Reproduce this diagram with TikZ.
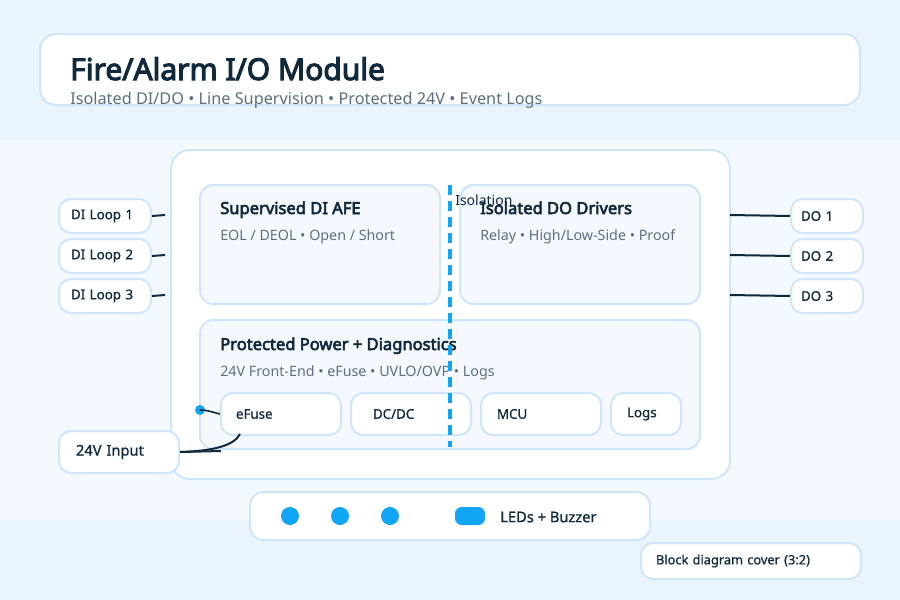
\documentclass[tikz,border=0pt]{standalone}
\usepackage{fontspec}
\setmainfont{Noto Sans}[BoldFont={Noto Sans}, BoldFeatures={FakeBold=3.5}]
\newfontfamily\midf{Noto Sans}[FakeBold=0.8]
\definecolor{bgA}{HTML}{E9F4FD}
\definecolor{bgB}{HTML}{F4F9FF}
\definecolor{edge}{HTML}{CFE6FA}
\definecolor{panel}{HTML}{F5F9FF}
\definecolor{ink}{HTML}{10293D}
\definecolor{sub}{HTML}{5E6E80}
\definecolor{accent}{HTML}{11A5F5}
\tikzset{
  box/.style={draw=edge, line width=1.5pt, rounded corners=10pt, fill=white},
  pbox/.style={draw=edge, line width=1.5pt, rounded corners=10pt, fill=panel},
  pill/.style={draw=edge, line width=1.5pt, rounded corners=9pt, fill=white, inner ysep=0pt, anchor=north west, text=ink, align=left, font=\midf\fontsize{10}{12}\selectfont},
  wire/.style={draw=ink, line width=1.5pt},
  hd/.style={anchor=base west, text=ink, font=\bfseries\fontsize{12.4}{14}\selectfont, inner sep=0pt},
  sb/.style={anchor=base west, text=sub, font=\fontsize{10.7}{12}\selectfont, inner sep=0pt},
}
\begin{document}
\begin{tikzpicture}[x=0.75pt,y=-0.75pt]
\useasboundingbox (0,0) rectangle (900,600);
% background bands
\fill[bgA] (0,0) rectangle (900,140);
\fill[bgB] (0,140) rectangle (900,520);
\fill[bgA] (0,520) rectangle (900,600);
% title
\draw[box, rounded corners=12pt] (40,34) rectangle (860,105);
\node[anchor=base west, text=ink, font=\bfseries\fontsize{22.5}{26}\selectfont, inner sep=0pt] (title) at (70,80) {Fire/Alarm I/O Module};
\node[anchor=base west, text=sub, font=\fontsize{12.2}{14}\selectfont, inner sep=0pt] (subtitle) at (70,104) {Isolated DI/DO • Line Supervision • Protected 24V • Event Logs};
% main module
\draw[box, rounded corners=14pt] (171,150) rectangle (730,479);
% DI AFE
\draw[pbox] (200,185) rectangle (440,304);
\node[hd] (diafe) at (220,214) {Supervised DI AFE};
\node[sb] (diafes) at (220,240) {EOL / DEOL • Open / Short};
% DO drivers
\draw[pbox] (460,185) rectangle (700,304);
\node[hd] (dodrv) at (480,214) {Isolated DO Drivers};
\node[sb] (dodrvs) at (480,240) {Relay • High/Low-Side • Proof};
% Power
\draw[pbox] (200,320) rectangle (700,449);
\node[hd] (pwr) at (220,350) {Protected Power + Diagnostics};
\node[sb] (pwrs) at (220,376) {24V Front-End • eFuse • UVLO/OVP • Logs};
% sub blocks
\node[pill, minimum height=31.5pt, inner xsep=11.25pt, text width=67.5pt] (efuse) at (220,392) {eFuse};
\node[pill, minimum height=31.5pt, inner xsep=16.5pt, text width=57pt] (dcdc) at (350,392) {DC/DC};
\node[pill, minimum height=31.5pt, inner xsep=12pt, text width=66pt] (mcu) at (480,392) {MCU};
\node[pill, minimum height=31.5pt, inner xsep=12pt, text width=28.5pt] (logs) at (610,392) {Logs};
% isolation
\draw[accent, line width=3pt, dash pattern=on 7.5pt off 4.5pt] (450,185) -- (450,447);
\node[anchor=base west, text=ink, font=\fontsize{10.5}{12}\selectfont, inner sep=0pt] (iso) at (455,205) {Isolation};
% DI loops
\foreach \i/\y in {1/198,2/238,3/278}{
  \node[pill, minimum height=25.5pt, inner xsep=9pt, text width=51pt] (di\i) at (58,\y) {DI Loop \i};
  \coordinate (dit\i) at (165,\y+17);
  \draw[wire] (di\i.east) -- (dit\i);
}
% DO outputs
\foreach \i/\y in {1/198,2/238,3/278}{
  \node[pill, minimum height=25.5pt, inner xsep=7.5pt, text width=39pt] (do\i) at (790,\y) {DO \i};
  \coordinate (dos\i) at (730,\y+17);
  \draw[wire] (dos\i) -- (do\i.west);
}
% 24V input
\node[pill, minimum height=31.5pt, inner xsep=12.75pt, text width=64.5pt, font=\midf\fontsize{11}{13}\selectfont] (vin) at (58,430) {24V Input};
\coordinate (vend) at (221,451);
\coordinate (efb) at (240,434);
\draw[wire] (vin.east) -- (vend);
\draw[wire] (vin.east) .. controls (212,451) and (234,446) .. (efb);
\coordinate (dotc) at (200,410);
\fill[accent] (dotc) circle (5);
\draw[wire, line width=1.2pt] (dotc) .. controls (207,410) and (212,412) .. (efuse.west);
% LED panel
\draw[box] (250,492) rectangle (650,540);
\foreach \x/\n in {290/a,340/b,390/c}{
  \fill[accent] (\x,516) circle (9) coordinate (led\n);
}
\fill[accent, rounded corners=5pt] (455,507) rectangle (485,525);
\node[anchor=west, text=ink, font=\midf\fontsize{11}{13}\selectfont, inner sep=0pt] (leds) at (500,517) {LEDs + Buzzer};
% caption
\node[pill, minimum height=27pt, inner xsep=11.25pt, text width=142.5pt, font=\midf\fontsize{9.6}{11}\selectfont] (cap) at (640,542) {Block diagram cover (3:2)};
\end{tikzpicture}
\end{document}
